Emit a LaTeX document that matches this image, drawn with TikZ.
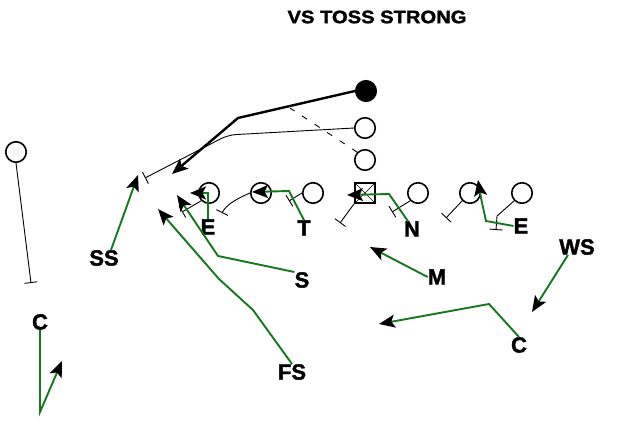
\documentclass[tikz,border=0pt]{standalone}
\usepackage{fontspec}
\setmainfont{Liberation Sans}
\newfontfamily\heavyfont{Liberation Sans Bold}[FakeBold=1.6]
\usetikzlibrary{arrows.meta}
\definecolor{routegreen}{RGB}{20,120,30}
\tikzset{
  player/.style  = { circle, draw=black, line width=1.6pt, minimum size=20.5pt, inner sep=0pt },
  carrier/.style = { player, fill=black },
  snapbox/.style = { rectangle, draw=black, line width=1.6pt, minimum size=20.5pt, inner sep=0pt },
  tag/.style     = { font=\heavyfont\fontsize{22}{22}\selectfont, inner sep=0pt },
}
\tikzset{
  block/.style   = { draw=black, line width=0.9pt, -{Bar[width=13pt]} },
  fake/.style    = { draw=black, line width=0.9pt, dash pattern=on 6pt off 9pt },
  run/.style     = { draw=black, line width=2.4pt, -{Stealth[length=16pt,width=13pt,inset=3.5pt]} },
  pursuit/.style = { draw=routegreen, line width=1.9pt,
                     -{Stealth[length=16pt,width=13pt,inset=3.5pt,color=black,fill=black]} }
}

\begin{document}
\begin{tikzpicture}[x=1pt, y=-1pt]
  \useasboundingbox (0,0) rectangle (640,443);

  \node (title) [font=\heavyfont\fontsize{18}{18}\selectfont, inner sep=0pt] at (377,17)
    {\scalebox{1.12}[1]{VS TOSS STRONG}};

  % offense
  \node (wr)  [player]  at (16,152)  {};
  \node (tb)  [carrier] at (366,91)  {};
  \node (fb)  [player]  at (365,128) {};
  \node (qb)  [player]  at (365,160) {};
  \node (ctr) [snapbox] at (365,193) {};
  \node (lg)  [player]  at (313,193) {};
  \node (lt)  [player]  at (261,193) {};
  \node (te)  [player]  at (209,193) {};
  \node (rg)  [player]  at (418,193) {};
  \node (rt)  [player]  at (470,193) {};
  \node (re)  [player]  at (522,193) {};
  \draw [line width=0.6pt] (ctr.north west) -- (ctr.south east)
                           (ctr.north east) -- (ctr.south west);

  % defense
  \node (ss)  [tag] at (104,258) {SS};
  \node (de1) [tag] at (208,227) {E};
  \node (dt)  [tag] at (304,228) {T};
  \node (sl)  [tag] at (302,280) {S};
  \node (fs)  [tag] at (292,372) {FS};
  \node (ng)  [tag] at (412,229) {N};
  \node (de2) [tag] at (521,226) {E};
  \node (ml)  [tag] at (437,277) {M};
  \node (ws)  [tag] at (577,247) {WS};
  \node (cb1) [tag] at (40,322)  {C};
  \node (cb2) [tag] at (519,345) {C};

  \coordinate (wrend) at (31,283);
  \coordinate (fbend) at (145,178);
  \coordinate (qbend) at (290,108);
  \coordinate (tbend) at (172,174);
  \coordinate (ctrend) at (340,223);
  \coordinate (lgend) at (289,201);
  \coordinate (ltend) at (222,213);
  \coordinate (teend) at (182,212);
  \coordinate (rgend) at (392,212);
  \coordinate (rtend) at (446,218);
  \coordinate (reend) at (496,230);

  \coordinate (ssend) at (138,175);
  \coordinate (de1end) at (190,193);
  \coordinate (dtend) at (252,192);
  \coordinate (slend) at (177,195);
  \coordinate (fsend) at (158,209);
  \coordinate (ngend) at (347,195);
  \coordinate (de2end) at (478,180);
  \coordinate (mlend) at (370,247);
  \coordinate (wsend) at (532,312);
  \coordinate (cb1end) at (62,361);
  \coordinate (cb2end) at (379,324);

  % blocks
  \draw [block] (wr.south) -- (wrend);
  \draw [block, rounded corners=8pt] (fb.west) -- (228,135) -- (fbend);
  \draw [fake] (qb.north west) -- (qbend);
  \draw [run] (tb.west) -- (238,118) -- (tbend);
  \draw [block] (ctr.south west) -- (ctrend);
  \draw [block] (lg.west) -- (lgend);
  \draw [block] (lt.west) .. controls (236,199) and (226,205) .. (ltend);
  \draw [block] (te.south west) -- (teend);
  \draw [block] (rg.south west) -- (rgend);
  \draw [block] (rt.south west) -- (rtend);
  \draw [block] (re.south west) -- (497,216) -- (reend);

  % pursuit
  \draw [pursuit] ([xshift=7pt]ss.north) -- (ssend);
  \draw [pursuit] (de1.north) -- (208,193) -- (de1end);
  \draw [pursuit] (dt.north) -- (289,191) -- (dtend);
  \draw [pursuit] (sl.north west) -- (218,256) -- (slend);
  \draw [pursuit] (fs.north) -- (253,310) -- (219,279) -- (fsend);
  \draw [pursuit] ([xshift=-4pt]ng.north) -- (389,194) -- (ngend);
  \draw [pursuit] (de2.west) -- (486,221) -- (481,198) -- (de2end);
  \draw [pursuit] (ml.west) -- (mlend);
  \draw [pursuit] ([xshift=-9pt]ws.south) -- (wsend);
  \draw [pursuit] (cb2.north) -- (489,304) -- (cb2end);
  \draw [pursuit] (cb1.south) -- (40,412) -- (cb1end);
\end{tikzpicture}
\end{document}
